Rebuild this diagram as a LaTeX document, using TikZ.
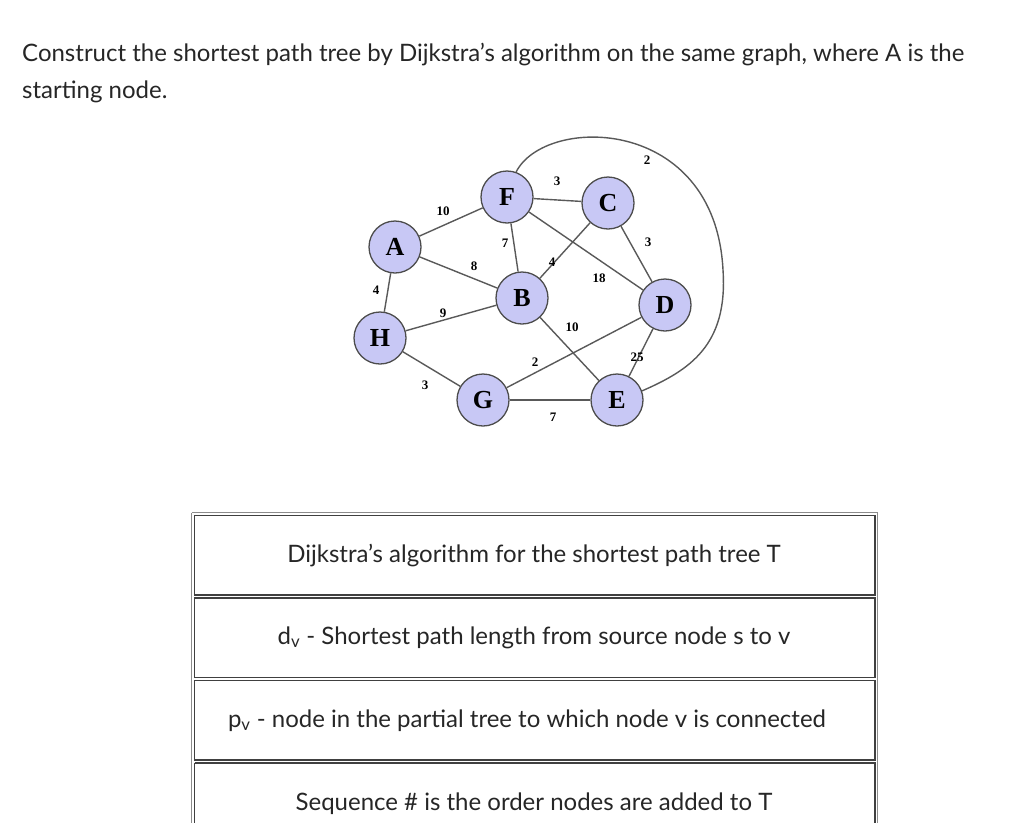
\documentclass[tikz,border=0pt]{standalone}
\usepackage{fontspec}
\setmainfont{Lato}
\newfontfamily\gfont{Liberation Serif}
\begin{document}
\begin{tikzpicture}[x=1pt,y=-1pt,
  vert/.style={circle,draw=black!70,fill={rgb,255:red,200;green,200;blue,245},line width=1.3pt,minimum size=52pt,inner sep=0pt,font=\gfont\bfseries\fontsize{26}{26}\selectfont},
  ed/.style={draw=black!65,line width=1.4pt},
  wl/.style={font=\gfont\bfseries\fontsize{13}{13}\selectfont,inner sep=0pt},
  txt/.style={anchor=base west,inner sep=0pt,text=black!85,font=\fontsize{24}{28}\selectfont},
  ctxt/.style={anchor=base,inner sep=0pt,text=black!85,font=\fontsize{24}{28}\selectfont},
  outer/.style={draw=black!45,line width=1.2pt},
  cell/.style={draw=black!75,line width=1.2pt}]
\useasboundingbox (0,0) rectangle (1024,822);
\node[txt] (t1) at (22,61) {Construct the shortest path tree by Dijkstra’s algorithm on the same graph, where A is the};
\node[txt] (t2) at (22,98) {starting node.};
\node[vert] (F) at (507,197) {F};
\node[vert] (C) at (608,203) {C};
\node[vert] (A) at (395,247) {A};
\node[vert] (B) at (522,298) {B};
\node[vert] (D) at (665,305) {D};
\node[vert] (H) at (380,338) {H};
\node[vert] (G) at (483,400) {G};
\node[vert] (E) at (617,400) {E};
\draw[ed] (A) -- (F);
\draw[ed] (F) -- (C);
\draw[ed] (F) -- (B);
\draw[ed] (F) -- (D);
\draw[ed] (A) -- (B);
\draw[ed] (A) -- (H);
\draw[ed] (C) -- (B);
\draw[ed] (C) -- (D);
\draw[ed] (H) -- (B);
\draw[ed] (B) -- (E);
\draw[ed] (H) -- (G);
\draw[ed] (G) -- (D);
\draw[ed] (G) -- (E);
\draw[ed] (D) -- (E);
\draw[ed] (F.70) .. controls (545,115) and (715,115) .. (723,270) .. controls (728,345) and (690,370) .. (E.20);
\node[wl] (w1) at (443,211) {10};
\node[wl] (w2) at (557,181) {3};
\node[wl] (w3) at (647,160) {2};
\node[wl] (w4) at (505,243) {7};
\node[wl] (w5) at (474,266) {8};
\node[wl] (w6) at (552,262) {4};
\node[wl] (w7) at (599,278) {18};
\node[wl] (w8) at (648,242) {3};
\node[wl] (w9) at (376,290) {4};
\node[wl] (w10) at (443,313) {9};
\node[wl] (w11) at (572,327) {10};
\node[wl] (w12) at (535,362) {2};
\node[wl] (w13) at (637,357) {25};
\node[wl] (w14) at (425,385) {3};
\node[wl] (w15) at (553,417) {7};
% table
\draw[outer] (191.5,512.5) -- (877.5,512.5) -- (877.5,830) (191.5,830) -- (191.5,512.5);
\draw[cell] (194.5,515.5) rectangle (875,595);
\draw[cell] (194.5,598) rectangle (875,677.5);
\draw[cell] (194.5,680.5) rectangle (875,760);
\draw[cell] (194.5,763) -- (875,763) -- (875,830) (194.5,830) -- (194.5,763);
\node[ctxt] (r1) at (534,562) {Dijkstra’s algorithm for the shortest path tree T};
\node[ctxt] (r2) at (534,644) {d\textsubscript{v} - Shortest path length from source node s to v};
\node[ctxt] (r3) at (527,727) {p\textsubscript{v} - node in the partial tree to which node v is connected};
\node[ctxt] (r4) at (534,810) {Sequence \# is the order nodes are added to T};
\end{tikzpicture}
\end{document}
